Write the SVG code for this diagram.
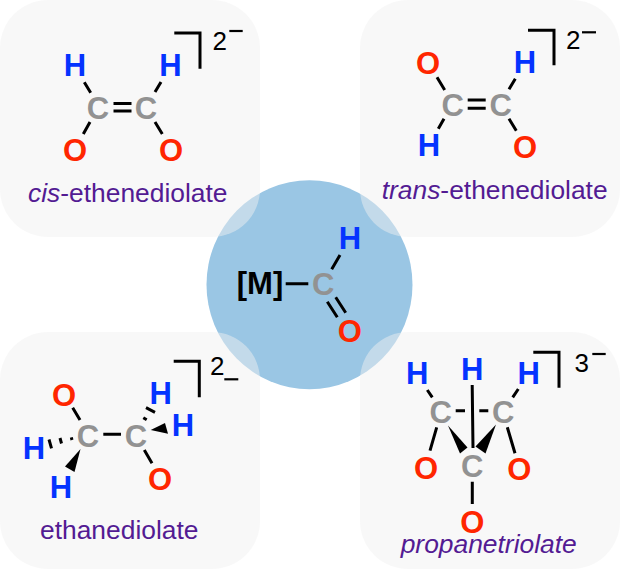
<svg xmlns="http://www.w3.org/2000/svg" width="621" height="569" viewBox="0 0 621 569">
<style>
.panel{fill:#f0f0f0;fill-opacity:.48}
.a{font:bold 31px "Liberation Sans",Arial,sans-serif;text-anchor:middle}
.H{fill:#0433ff}.O{fill:#ff2600}.C{fill:#929292}.M{fill:#000}
.l{font:26.4px "Liberation Sans",Arial,sans-serif;fill:#531b93}
.c{font:26px "Liberation Sans",Arial,sans-serif;fill:#000}
.i{font-style:italic}
.b{stroke:#000;stroke-width:3;fill:none}
.br{stroke:#000;stroke-width:3;fill:none}
.m{stroke:#000;stroke-width:2.2;fill:none}
.w{fill:#000;stroke:none}
</style>
<rect width="621" height="569" fill="#fff"/>
<g id="center-circle"><ellipse cx="309.5" cy="284.7" rx="103" ry="104.5" fill="#9ac6e4"/></g>
<g id="panel-cis">
<rect class="panel" x="0" y="0" width="260" height="237" rx="48"/>
<text class="l" x="28" y="202"><tspan class="i">cis</tspan>-ethenediolate</text>
<text class="a H" x="75" y="76">H</text><text class="a H" x="170.5" y="76">H</text>
<text class="a C" x="98" y="119">C</text><text class="a C" x="146" y="119">C</text>
<text class="a O" x="75" y="161">O</text><text class="a O" x="171" y="161">O</text>
<path class="br" d="M174.3 33H200V68.7"/>
<text class="c" x="212.5" y="49.5">2</text><path class="m" d="M229.3 31H242.7"/>
</g>
<g id="panel-trans">
<rect class="panel" x="360" y="0" width="260" height="237" rx="48"/>
<text class="l" x="381.7" y="199"><tspan class="i">trans</tspan>-ethenediolate</text>
<text class="a O" x="428" y="74">O</text><text class="a H" x="525" y="73">H</text>
<text class="a C" x="452.7" y="116">C</text><text class="a C" x="500.7" y="116">C</text>
<text class="a H" x="429" y="156">H</text><text class="a O" x="525" y="158">O</text>
<path class="br" d="M528 30.3H554V65.3"/>
<text class="c" x="566" y="49.3">2</text><path class="m" d="M582 32.3H596"/>
</g>
<g id="panel-ethane">
<rect class="panel" x="0" y="332" width="260" height="237" rx="48"/>
<text class="l" x="40" y="539">ethanediolate</text>
<text class="a O" x="64" y="406">O</text><text class="a H" x="34" y="459">H</text>
<text class="a H" x="61" y="498">H</text><text class="a C" x="88" y="447">C</text>
<text class="a C" x="136" y="447">C</text><text class="a H" x="160.7" y="404">H</text>
<text class="a H" x="183" y="436">H</text><text class="a O" x="160" y="490">O</text>
<path class="br" d="M173.7 361.3H199.3V397.3"/>
<text class="c" x="210" y="375">2</text><path class="m" d="M224.3 379.3H238.3"/>
</g>
<g id="panel-propane">
<rect class="panel" x="360" y="332" width="260" height="237" rx="48"/>
<text class="l i" x="400.7" y="553.3">propanetriolate</text>
<text class="a H" x="417.3" y="384.3">H</text><text class="a H" x="472.3" y="380.3">H</text>
<text class="a H" x="528.7" y="384.3">H</text>
<text class="a C" x="440.7" y="423.3">C</text><text class="a C" x="503.3" y="423.3">C</text>
<text class="a C" x="472.3" y="476.7">C</text>
<text class="a O" x="426" y="479.3">O</text><text class="a O" x="519.3" y="480.3">O</text>
<text class="a O" x="472.3" y="532.7">O</text>
<path class="br" d="M533.3 352.3H559V387.7"/>
<text class="c" x="574.5" y="371.7">3</text><path class="m" d="M592.3 354H605.7"/>
</g>
<g id="center-formyl">
<text class="a M" x="260" y="294">[M]</text>
<text class="a H" x="350" y="249.3">H</text>
<text class="a C" x="323.3" y="295.3">C</text>
<text class="a O" x="349.7" y="341.7">O</text>
</g>
<g id="connectors">
<path class="b" d="M84.3 82.3L90.7 92.7M161 82L155 92M90 122L83.3 134M155 122L162.3 134M113.5 103.5H131.5M113.5 111H131.5"/>
<path class="b" d="M437 77.3L444.7 90M515.3 78.7L509 89.3M444 118.7L438.3 128.7M509 118.7L516.3 130.7M467.7 100H485.7M467.7 108.3H485.7"/>
<path class="b" d="M72.7 407.7L80 420M103.3 434.3H121M144.3 450L152 463.3"/>
<path class="w" d="M80.5 449L65 466.5L74.5 472Z"/>
<path class="w" d="M150.7 430L165 423L168 433.8Z"/>
<path class="b" d="M71.3 437.3L72 440M60 438L61.5 443.5M49 439.5L51.5 448.3"/>
<path class="b" d="M143.3 417.7L146.7 419.7M146 407.7L155 412.3"/>
<path class="b" d="M427.3 390L432.3 397.3M518.3 389L512.7 397.3M472.2 385L473 448M455.7 410.7H465M479.3 410.7H488.3M436.7 427.3L430 450.7M507.3 427.3L515 453.3M472.3 481.7V504"/>
<path class="w" d="M448 425.5L467.5 447.5L460 453.5Z"/>
<path class="w" d="M496 424.5L475.5 446.5L485.5 453.5Z"/>
<path class="b" d="M285.7 283.7H308.3M340 255L331.7 269.3M327.3 301.7L337.3 317.3M335.7 297.3L345.7 312.7"/>
</g>
</svg>
